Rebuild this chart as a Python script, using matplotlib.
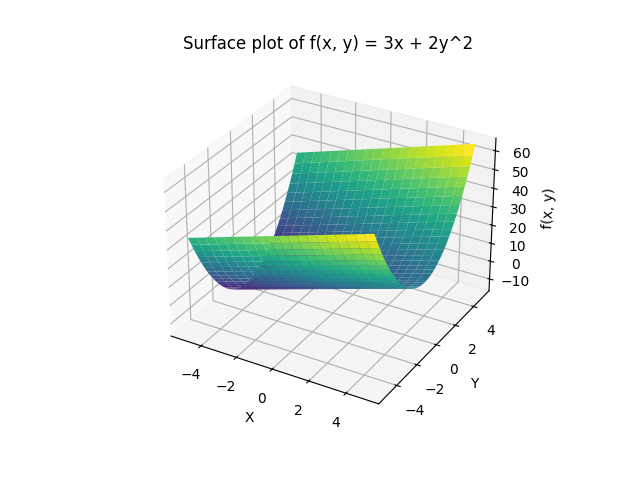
import numpy as np
from matplotlib import pyplot as plt

# grid positions
x_values = [-5.0, -4.5, -4.0, -3.5, -3.0, -2.5, -2.0, -1.5, -1.0, -0.5, 0.0,
            0.5, 1.0, 1.5, 2.0, 2.5, 3.0, 3.5, 4.0, 4.5, 5.0]
y_values = [-5.0, -4.75, -4.5, -4.25, -4.0, -3.75, -3.5, -3.25, -3.0, -2.75, -2.5,
            -2.25, -2.0, -1.75, -1.5, -1.25, -1.0, -0.75, -0.5, -0.25, 0.0,
            0.25, 0.5, 0.75, 1.0, 1.25, 1.5, 1.75, 2.0, 2.25, 2.5,
            2.75, 3.0, 3.25, 3.5, 3.75, 4.0, 4.25, 4.5, 4.75, 5.0]

# f(x, y) per y row, from y = -5 to y = 0 (the surface is mirrored around y = 0)
z_rows = [
    [35, 36.5, 38, 39.5, 41, 42.5, 44, 45.5, 47, 48.5, 50, 51.5, 53, 54.5, 56, 57.5, 59, 60.5, 62, 63.5, 65],
    [30.125, 31.625, 33.125, 34.625, 36.125, 37.625, 39.125, 40.625, 42.125, 43.625, 45.125, 46.625, 48.125, 49.625, 51.125, 52.625, 54.125, 55.625, 57.125, 58.625, 60.125],
    [25.5, 27, 28.5, 30, 31.5, 33, 34.5, 36, 37.5, 39, 40.5, 42, 43.5, 45, 46.5, 48, 49.5, 51, 52.5, 54, 55.5],
    [21.125, 22.625, 24.125, 25.625, 27.125, 28.625, 30.125, 31.625, 33.125, 34.625, 36.125, 37.625, 39.125, 40.625, 42.125, 43.625, 45.125, 46.625, 48.125, 49.625, 51.125],
    [17, 18.5, 20, 21.5, 23, 24.5, 26, 27.5, 29, 30.5, 32, 33.5, 35, 36.5, 38, 39.5, 41, 42.5, 44, 45.5, 47],
    [13.125, 14.625, 16.125, 17.625, 19.125, 20.625, 22.125, 23.625, 25.125, 26.625, 28.125, 29.625, 31.125, 32.625, 34.125, 35.625, 37.125, 38.625, 40.125, 41.625, 43.125],
    [9.5, 11, 12.5, 14, 15.5, 17, 18.5, 20, 21.5, 23, 24.5, 26, 27.5, 29, 30.5, 32, 33.5, 35, 36.5, 38, 39.5],
    [6.125, 7.625, 9.125, 10.625, 12.125, 13.625, 15.125, 16.625, 18.125, 19.625, 21.125, 22.625, 24.125, 25.625, 27.125, 28.625, 30.125, 31.625, 33.125, 34.625, 36.125],
    [3, 4.5, 6, 7.5, 9, 10.5, 12, 13.5, 15, 16.5, 18, 19.5, 21, 22.5, 24, 25.5, 27, 28.5, 30, 31.5, 33],
    [0.125, 1.625, 3.125, 4.625, 6.125, 7.625, 9.125, 10.625, 12.125, 13.625, 15.125, 16.625, 18.125, 19.625, 21.125, 22.625, 24.125, 25.625, 27.125, 28.625, 30.125],
    [-2.5, -1, 0.5, 2, 3.5, 5, 6.5, 8, 9.5, 11, 12.5, 14, 15.5, 17, 18.5, 20, 21.5, 23, 24.5, 26, 27.5],
    [-4.875, -3.375, -1.875, -0.375, 1.125, 2.625, 4.125, 5.625, 7.125, 8.625, 10.125, 11.625, 13.125, 14.625, 16.125, 17.625, 19.125, 20.625, 22.125, 23.625, 25.125],
    [-7, -5.5, -4, -2.5, -1, 0.5, 2, 3.5, 5, 6.5, 8, 9.5, 11, 12.5, 14, 15.5, 17, 18.5, 20, 21.5, 23],
    [-8.875, -7.375, -5.875, -4.375, -2.875, -1.375, 0.125, 1.625, 3.125, 4.625, 6.125, 7.625, 9.125, 10.625, 12.125, 13.625, 15.125, 16.625, 18.125, 19.625, 21.125],
    [-10.5, -9, -7.5, -6, -4.5, -3, -1.5, 0, 1.5, 3, 4.5, 6, 7.5, 9, 10.5, 12, 13.5, 15, 16.5, 18, 19.5],
    [-11.875, -10.375, -8.875, -7.375, -5.875, -4.375, -2.875, -1.375, 0.125, 1.625, 3.125, 4.625, 6.125, 7.625, 9.125, 10.625, 12.125, 13.625, 15.125, 16.625, 18.125],
    [-13, -11.5, -10, -8.5, -7, -5.5, -4, -2.5, -1, 0.5, 2, 3.5, 5, 6.5, 8, 9.5, 11, 12.5, 14, 15.5, 17],
    [-13.875, -12.375, -10.875, -9.375, -7.875, -6.375, -4.875, -3.375, -1.875, -0.375, 1.125, 2.625, 4.125, 5.625, 7.125, 8.625, 10.125, 11.625, 13.125, 14.625, 16.125],
    [-14.5, -13, -11.5, -10, -8.5, -7, -5.5, -4, -2.5, -1, 0.5, 2, 3.5, 5, 6.5, 8, 9.5, 11, 12.5, 14, 15.5],
    [-14.875, -13.375, -11.875, -10.375, -8.875, -7.375, -5.875, -4.375, -2.875, -1.375, 0.125, 1.625, 3.125, 4.625, 6.125, 7.625, 9.125, 10.625, 12.125, 13.625, 15.125],
    [-15, -13.5, -12, -10.5, -9, -7.5, -6, -4.5, -3, -1.5, 0, 1.5, 3, 4.5, 6, 7.5, 9, 10.5, 12, 13.5, 15],
]

X, Y = np.meshgrid(x_values, y_values)
Z = np.array(z_rows + z_rows[-2::-1])

fig = plt.figure()
ax = fig.add_subplot(111, projection="3d")
ax.plot_surface(X, Y, Z, cmap="viridis")

ax.set_title("Surface plot of f(x, y) = 3x + 2y^2")
ax.set_xlabel("X")
ax.set_ylabel("Y")
ax.set_zlabel("f(x, y)")

plt.savefig("out.png")
